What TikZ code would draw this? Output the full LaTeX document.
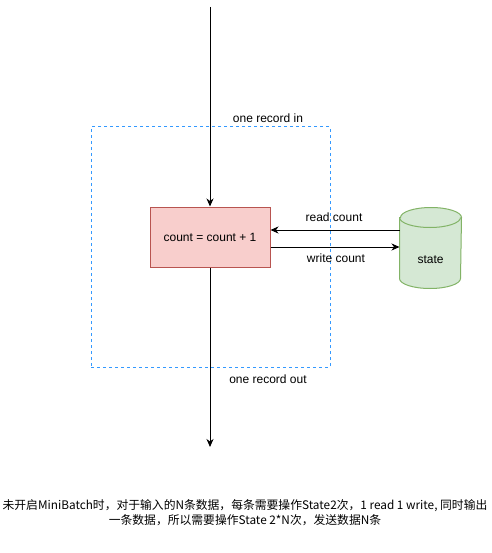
\documentclass[tikz,border=0pt]{standalone}
\usepackage{fontspec}
\setmainfont{Liberation Sans}
\newfontfamily\cjk{Noto Sans CJK SC}
\definecolor{mysalmon}{RGB}{248,206,204}
\definecolor{mysalmonline}{RGB}{184,84,80}
\definecolor{mygreen}{RGB}{213,232,212}
\definecolor{mygreenline}{RGB}{130,179,102}
\definecolor{myblue}{RGB}{51,153,255}
\usetikzlibrary{arrows.meta,positioning}

\begin{document}
\begin{tikzpicture}[
  x=1pt,y=-1pt,
  line width=1pt,
  font=\fontsize{12}{15}\selectfont,
  myarrow/.style={-{Stealth[length=8pt,width=7pt,inset=2.5pt]}},
  mybatch/.style={
    draw=myblue,
    dashed,
    dash pattern=on 3pt off 3pt,
    minimum width=239pt,
    minimum height=240pt
    },
  mycount/.style={
    draw=mysalmonline,
    fill=mysalmon,
    minimum width=120pt,
    minimum height=60pt
    },
  mystate/.style={
    minimum width=61pt,
    minimum height=80pt
    },
  myend/.style={
    x radius=30.5pt,
    y radius=10pt
    }
]
\useasboundingbox (0,0) rectangle (491,553);

\node[mybatch] (batch) at (210.5,247) {};
\node[mycount] (count) at (210,237) {count = count + 1};
\node[mystate] (state) at (430.5,248) {};

% the cylinder
\draw[draw=mygreenline, fill=mygreen]
  ([yshift=-10pt]state.north west) -- ([yshift=10pt]state.south west)
  arc[start angle=180, end angle=360, myend]
  -- ([yshift=-10pt]state.north east)
  arc[start angle=0, end angle=180, myend] -- cycle;
\draw[draw=mygreenline]
  ([yshift=-10pt]state.north west) arc[start angle=180, end angle=360, myend];
\node at (430.5,260) (statetext) {state};

\coordinate (in) at (210,7);
\coordinate (out) at (210,447);
\draw[myarrow] (in) -- (count);
\draw[myarrow] (count) -- (out);
\draw[myarrow] (state.west |- 0,230) -- (count.east |- 0,230);
\draw[myarrow] (count.east |- 0,247) -- (state.west |- 0,247);

% labels
\node (inlabel) at (268,118) {one record in};
\node (outlabel) at (268,379) {one record out};
\node (readlabel) at (334,217) {read count};
\node (writelabel) at (336,258) {write count};

\node[align=center, font=\fontsize{11.8}{15}\selectfont] (note) at (245,512.5) {\cjk 未开启MiniBatch时，对于输入的N条数据，每条需要操作State2次，1 read 1 write, 同时输出\\
\cjk 一条数据，所以需要操作State 2*N次，发送数据N条};

\end{tikzpicture}
\end{document}
